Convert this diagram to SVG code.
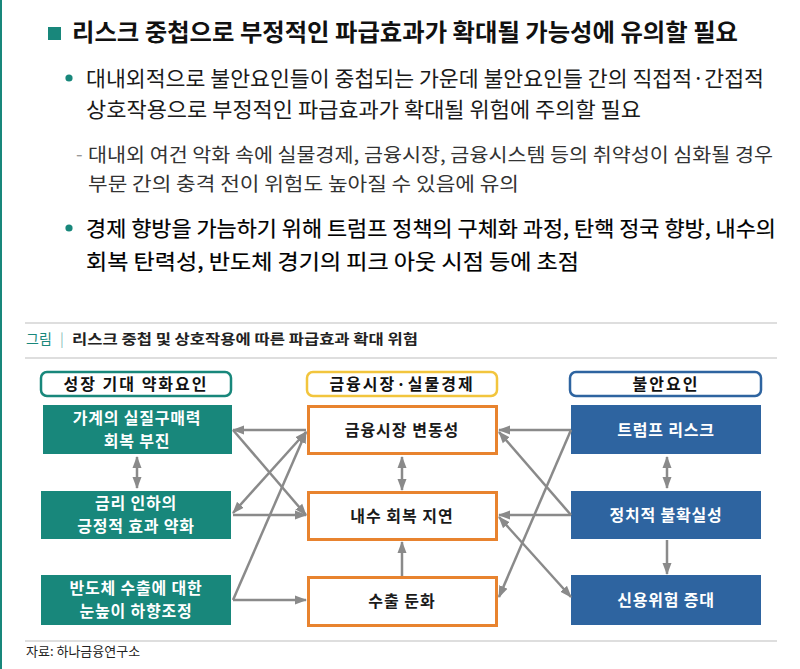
<svg xmlns="http://www.w3.org/2000/svg" width="800" height="669" viewBox="0 0 800 669">
<style>
text{font-family:"Noto Sans CJK KR","Noto Sans",sans-serif;}
.t1{font-size:24px;font-weight:700;fill:#111;}
.b1{font-size:21px;font-weight:400;fill:#1a1a1a;}
.d1{font-size:19px;font-weight:400;fill:#333;}
.b2{font-size:21px;font-weight:400;fill:#000;stroke:#000;stroke-width:0.2px;}
.cap{font-size:14px;font-weight:700;fill:#222;}
.hdr{font-size:16px;font-weight:700;fill:#111;text-anchor:middle;letter-spacing:2px;}
.nw{font-size:16px;font-weight:700;fill:#fff;text-anchor:middle;letter-spacing:0.8px;}
.nd{font-size:16px;font-weight:700;fill:#1a1a1a;text-anchor:middle;letter-spacing:1px;}
.teal{fill:#18877b;}
.blue{fill:#2e64a0;}
.mid{fill:#fff;stroke:#e8832f;stroke-width:3;}
.rule{stroke:#bdbdbd;stroke-width:1.2;}
.conn path{fill:none;stroke:#8a8a8a;stroke-width:2.5;}
</style>
<defs>
<marker id="ah" markerUnits="userSpaceOnUse" markerWidth="12" markerHeight="10" refX="11" refY="5" orient="auto-start-reverse">
<path d="M0,0.5 L12,5 L0,9.5 Z" fill="#8a8a8a"/>
</marker>
</defs>
<rect x="0" y="0" width="800" height="669" fill="#fff"/>
<rect x="0" y="0" width="2" height="669" fill="#18877b"/>

<g id="heading">
<rect x="48" y="27" width="13" height="13" fill="#18877b"/>
<text class="t1" x="72" y="41" textLength="666" lengthAdjust="spacingAndGlyphs">리스크 중첩으로 부정적인 파급효과가 확대될 가능성에 유의할 필요</text>
</g>
<g id="bullet1">
<circle cx="69" cy="78" r="3.6" fill="#18877b"/>
<text class="b1" x="86" y="86" textLength="678" lengthAdjust="spacingAndGlyphs">대내외적으로 불안요인들이 중첩되는 가운데 불안요인들 간의 직접적·간접적</text>
<text class="b1" x="86" y="117" textLength="555" lengthAdjust="spacingAndGlyphs">상호작용으로 부정적인 파급효과가 확대될 위험에 주의할 필요</text>
</g>
<g id="dash1">
<text x="76" y="161" style="font-size:19px;fill:#999;">-</text>
<text class="d1" x="88" y="162" textLength="685" lengthAdjust="spacingAndGlyphs">대내외 여건 악화 속에 실물경제, 금융시장, 금융시스템 등의 취약성이 심화될 경우</text>
<text class="d1" x="88" y="191" textLength="431" lengthAdjust="spacingAndGlyphs">부문 간의 충격 전이 위험도 높아질 수 있음에 유의</text>
</g>
<g id="bullet2">
<circle cx="69" cy="228" r="3.6" fill="#18877b"/>
<text class="b2" x="86" y="236" textLength="690" lengthAdjust="spacingAndGlyphs">경제 향방을 가늠하기 위해 트럼프 정책의 구체화 과정, 탄핵 정국 향방, 내수의</text>
<text class="b2" x="86" y="269" textLength="493" lengthAdjust="spacingAndGlyphs">회복 탄력성, 반도체 경기의 피크 아웃 시점 등에 초점</text>
</g>

<g id="figure-caption">
<line class="rule" x1="25" y1="323" x2="777" y2="323"/>
<line class="rule" x1="25" y1="358" x2="777" y2="358"/>
<text x="26" y="344" style="font-size:14px;fill:#18877b;">그림</text>
<text x="60" y="344" style="font-size:14px;fill:#8cc0b8;">|</text>
<text class="cap" x="72" y="344" textLength="346" lengthAdjust="spacingAndGlyphs">리스크 중첩 및 상호작용에 따른 파급효과 확대 위험</text>
</g>

<g id="hdr-left">
<rect x="41" y="372" width="190" height="24" rx="6" fill="#fff" stroke="#18877b" stroke-width="2.5"/>
<text class="hdr" x="136" y="390">성장 기대 약화요인</text>
</g>
<g id="hdr-mid">
<rect x="307" y="372" width="190" height="24" rx="6" fill="#fff" stroke="#f2c53d" stroke-width="2.5"/>
<text class="hdr" x="402" y="390">금융시장·실물경제</text>
</g>
<g id="hdr-right">
<rect x="570" y="372" width="191" height="24" rx="6" fill="#fff" stroke="#2e64a0" stroke-width="2.5"/>
<text class="hdr" x="666" y="390">불안요인</text>
</g>

<g id="L1">
<rect class="teal" x="43" y="405" width="189" height="49"/>
<text class="nw" x="137" y="424">가계의 실질구매력</text>
<text class="nw" x="137" y="447">회복 부진</text>
</g>
<g id="L2">
<rect class="teal" x="41" y="491" width="190" height="48"/>
<text class="nw" x="136" y="509">금리 인하의</text>
<text class="nw" x="136" y="532">긍정적 효과 약화</text>
</g>
<g id="L3">
<rect class="teal" x="41" y="575" width="190" height="50"/>
<text class="nw" x="136" y="594">반도체 수출에 대한</text>
<text class="nw" x="136" y="617">눈높이 하향조정</text>
</g>

<g id="M1">
<rect class="mid" x="308.5" y="406.5" width="188" height="47"/>
<text class="nd" x="402" y="436">금융시장 변동성</text>
</g>
<g id="M2">
<rect class="mid" x="308.5" y="492.5" width="188" height="47"/>
<text class="nd" x="402" y="522">내수 회복 지연</text>
</g>
<g id="M3">
<rect class="mid" x="308.5" y="577.5" width="188" height="48"/>
<text class="nd" x="402" y="607">수출 둔화</text>
</g>

<g id="R1">
<rect class="blue" x="571" y="405" width="190" height="49"/>
<text class="nw" x="666" y="436">트럼프 리스크</text>
</g>
<g id="R2">
<rect class="blue" x="571" y="491" width="190" height="48"/>
<text class="nw" x="666" y="521">정치적 불확실성</text>
</g>
<g id="R3">
<rect class="blue" x="571" y="575" width="190" height="50"/>
<text class="nw" x="666" y="606">신용위험 증대</text>
</g>

<g id="connectors" class="conn">
<path d="M306,430 L233,430" marker-end="url(#ah)"/>
<path d="M233,430 L306,515" marker-end="url(#ah)"/>
<path d="M233,515 L306,515" marker-end="url(#ah)"/>
<path d="M233,513 L306,432" marker-start="url(#ah)" marker-end="url(#ah)"/>
<path d="M233,600 L306,432" marker-end="url(#ah)"/>
<path d="M233,600 L306,600" marker-end="url(#ah)"/>
<path d="M137,457 L137,488" marker-start="url(#ah)" marker-end="url(#ah)"/>
<path d="M402,457 L402,490" marker-start="url(#ah)" marker-end="url(#ah)"/>
<path d="M402,576 L402,542" marker-end="url(#ah)"/>
<path d="M571,430 L499,430" marker-end="url(#ah)"/>
<path d="M571,430 L499,597" marker-end="url(#ah)"/>
<path d="M571,515 L499,515" marker-end="url(#ah)"/>
<path d="M571,515 L499,432" marker-end="url(#ah)"/>
<path d="M499,517 L571,597" marker-start="url(#ah)" marker-end="url(#ah)"/>
<path d="M667,457 L667,488" marker-start="url(#ah)" marker-end="url(#ah)"/>
<path d="M667,540 L667,574" marker-end="url(#ah)"/>
</g>

<g id="source">
<line class="rule" x1="25" y1="641" x2="777" y2="641"/>
<text x="26" y="656" style="font-size:13px;fill:#222;">자료: 하나금융연구소</text>
</g>
</svg>
